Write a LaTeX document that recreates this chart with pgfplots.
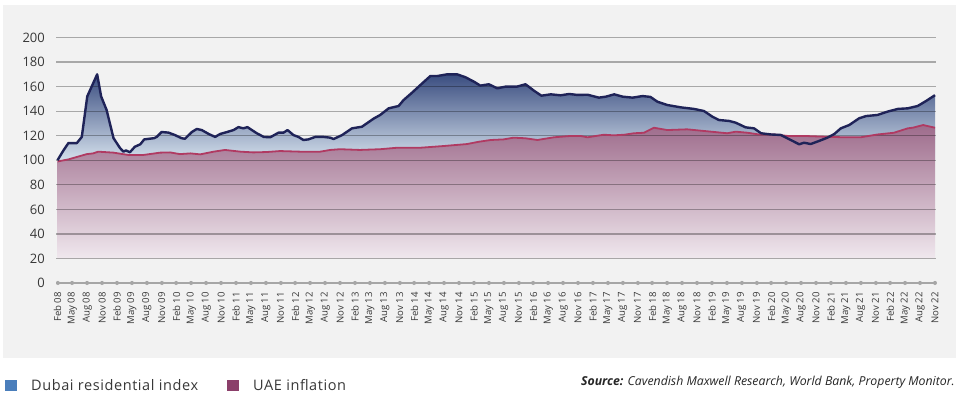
\documentclass[border=0pt]{standalone}
\usepackage{pgfplots}
\pgfplotsset{compat=1.18}
\usepackage{pgfplotstable}
\usepackage{fontspec}
\setmainfont{Open Sans}
\definecolor{bgc}{HTML}{F2F2F2}
\definecolor{blueline}{HTML}{1F2358}
\definecolor{pinkline}{HTML}{B03A62}
\definecolor{bluetop}{HTML}{3A4D80}
\definecolor{bluebot}{HTML}{D4E0EC}
\definecolor{pinktop}{HTML}{9E6C8C}
\definecolor{pinkbot}{HTML}{F0E8EE}
\definecolor{legblue}{HTML}{4A7EBB}
\definecolor{legpink}{HTML}{8B3F6A}
\definecolor{txt}{HTML}{383838}

\pgfplotstableread{
m v
0 100
1.2 108
2.2 114
3.9 114
4.9 119
6 152
8 170
8.8 152
9.9 141
11.3 118
12.6 110
13.3 107
13.8 108
14.6 106.5
15.6 111
16.7 113
17.5 117
19.5 118
20 119
21 123
22.4 122.5
23.7 120.5
25 118
25.7 117.5
27.1 123
28.1 125.5
29.1 124.6
30.5 121.4
31.8 119
32.8 121.4
34.2 123
35.5 124.6
36.5 127
37.5 126
38.3 127
40.2 122
41.6 119
42.9 118.7
44.6 122.5
45.6 122.5
46.4 124.6
47.6 120.5
48.6 119
49.6 116.5
50.6 117
52 119
53.7 119
55 118.4
55.7 117.3
57.4 120.5
59.4 126
61.4 127.3
63.8 134
65.1 136.9
66.8 142.3
68.8 144.2
69.8 149
71.5 155
73.2 161.3
75.2 168.6
76.6 168.6
78.6 170
80.6 170
82.3 167.6
84 164
85.3 160.8
87 161.9
88.7 158.6
90.4 160
92.7 160
94.4 161.9
96.1 156.7
97.6 152.6
99.5 153.7
101.5 152.9
103.2 154
104.9 153.2
106.9 153.4
109.2 151
110.6 151.8
112.3 153.7
114 151.8
116 151
118 152.3
119.6 151.6
121 147.7
123 145
125.7 143.1
128.4 141.8
130.4 140.1
132.1 135.5
133.4 132.8
135.5 132
136.8 130.6
138.8 126.8
140.5 126
141.9 122
143.9 121
145.9 120.6
147.9 116.5
149.6 113
150.6 114.3
151.9 113.2
153.6 115.7
155.3 118.4
156.7 121.4
158 126
159.7 128.7
161.7 134.2
163.1 136
165.4 136.9
167.4 139.6
169.5 141.8
171.5 142.3
173.5 144.2
175.2 148.3
177 153
}\dubai

\pgfplotstableread{
m v
0 99
2.2 100.7
5.9 105
7.2 105.6
8.2 107
11.3 106.2
14.3 104.3
17.3 104.3
20.7 106.2
22.7 106.4
24.7 105
26.8 105.6
28.8 104.8
31.5 107
33.8 108.4
36.9 107
39.5 106.4
42.2 106.7
44.9 107.5
48.9 107
53 107
55 108.4
57 109
61 108.4
65.1 109
68.5 110.2
73.2 110.2
77.9 111.6
82.6 113.2
85 115.1
87.4 116.5
90 117
92 118.4
94.4 117.9
96.8 116.5
100.1 118.7
103.5 119.8
105.5 119.8
106.9 118.7
110.2 120.8
112.2 120.3
114.3 120.8
116.3 122
118.3 122.4
120.3 126.5
123 124.6
127 125.2
131.8 123.3
135.1 122
136.8 123.3
139.2 122.4
141.5 121
144.6 121
147.3 119.8
150.6 119.8
154.7 119.2
158.7 118.7
162 118.7
165.4 121
168.7 122.4
171.5 126
172.5 126.5
174.6 128.7
177 126.5
}\uae

\begin{document}
\begin{tikzpicture}[x=1pt,y=1pt]
\fill[white] (0,0) rectangle (960,400);
\fill[bgc] (3,42) rectangle (956,395);
\begin{axis}[
  at={(57.5pt,117pt)}, anchor=south west,
  scale only axis, width=877.5pt, height=245.5pt,
  xmin=0, xmax=177, ymin=0, ymax=200,
  clip=false,
  axis x line*=bottom, axis y line*=left,
  x axis line style={-, draw=black!35, line width=1.4pt},
  y axis line style={draw=none},
  xtick={0,3,...,177},
  xticklabels={Feb 08,May 08,Aug 08,Nov 08,Feb 09,May 09,Aug 09,Nov 09,Feb 10,May 10,Aug 10,Nov 10,Feb 11,May 11,Aug 11,Nov 11,Feb 12,May 12,Aug 12,Nov 12,Feb 13,May 13,Aug 13,Nov 13,Feb 14,May 14,Aug 14,Nov 14,Feb 15,May 15,Aug 15,Nov 15,Feb 16,May 16,Aug 16,Nov 16,Feb 17,May 17,Aug 17,Nov 17,Feb 18,May 18,Aug 18,Nov 18,Feb 19,May 19,Aug 19,Nov 19,Feb 20,May 20,Aug 20,Nov 20,Feb 21,May 21,Aug 21,Nov 21,Feb 22,May 22,Aug 22,Nov 22},
  xticklabel style={rotate=90, anchor=east, inner sep=0pt, font=\fontsize{9.6}{11}\selectfont, text=txt},
  xticklabel shift=9pt,
  major tick length=0.1pt,
  xtick style={draw=black!35, line width=4pt, line cap=round},
  ytick={0,20,...,200},
  ytick style={draw=none},
  yticklabel style={anchor=east, inner sep=0pt, font=\fontsize{13}{15}\selectfont, text=txt},
  yticklabel shift=12.5pt,
  /pgf/number format/assume math mode=true,
]
\addplot[draw=none, top color=bluetop, bottom color=bluebot] table[x=m,y=v] {\dubai} -- (axis cs:177,100) -- (axis cs:0,100) -- cycle;
\addplot[draw=none, top color=pinktop, bottom color=pinkbot] table[x=m,y=v] {\uae} -- (axis cs:177,20) -- (axis cs:0,20) -- cycle;
\pgfplotsinvokeforeach{20,40,...,200}{
  \draw[black, opacity=0.3, line width=1.3pt] (axis cs:-0.3,#1) -- (axis cs:177.2,#1);
}
\addplot[pinkline, line width=1.8pt, line join=round] table[x=m,y=v] {\uae};
\addplot[blueline, line width=2.4pt, line join=round] table[x=m,y=v] {\dubai};
\end{axis}
\fill[legblue] (5,9) rectangle (17,20.5);
\node[anchor=base west, inner sep=0pt, text=txt, font=\fontsize{14.5}{16}\selectfont\addfontfeatures{LetterSpace=4}] at (31,9.5) {Dubai residential index};
\fill[legpink] (227,9) rectangle (239,20.5);
\node[anchor=base west, inner sep=0pt, text=txt, font=\fontsize{14.5}{16}\selectfont\addfontfeatures{LetterSpace=4}] at (253,9.5) {UAE inflation};
\node[anchor=base east, inner sep=0pt, text=black!85, font=\fontsize{12.3}{14}\selectfont\itshape] at (955,14.5) {\textbf{Source:} Cavendish Maxwell Research, World Bank, Property Monitor.};
\end{tikzpicture}
\end{document}
